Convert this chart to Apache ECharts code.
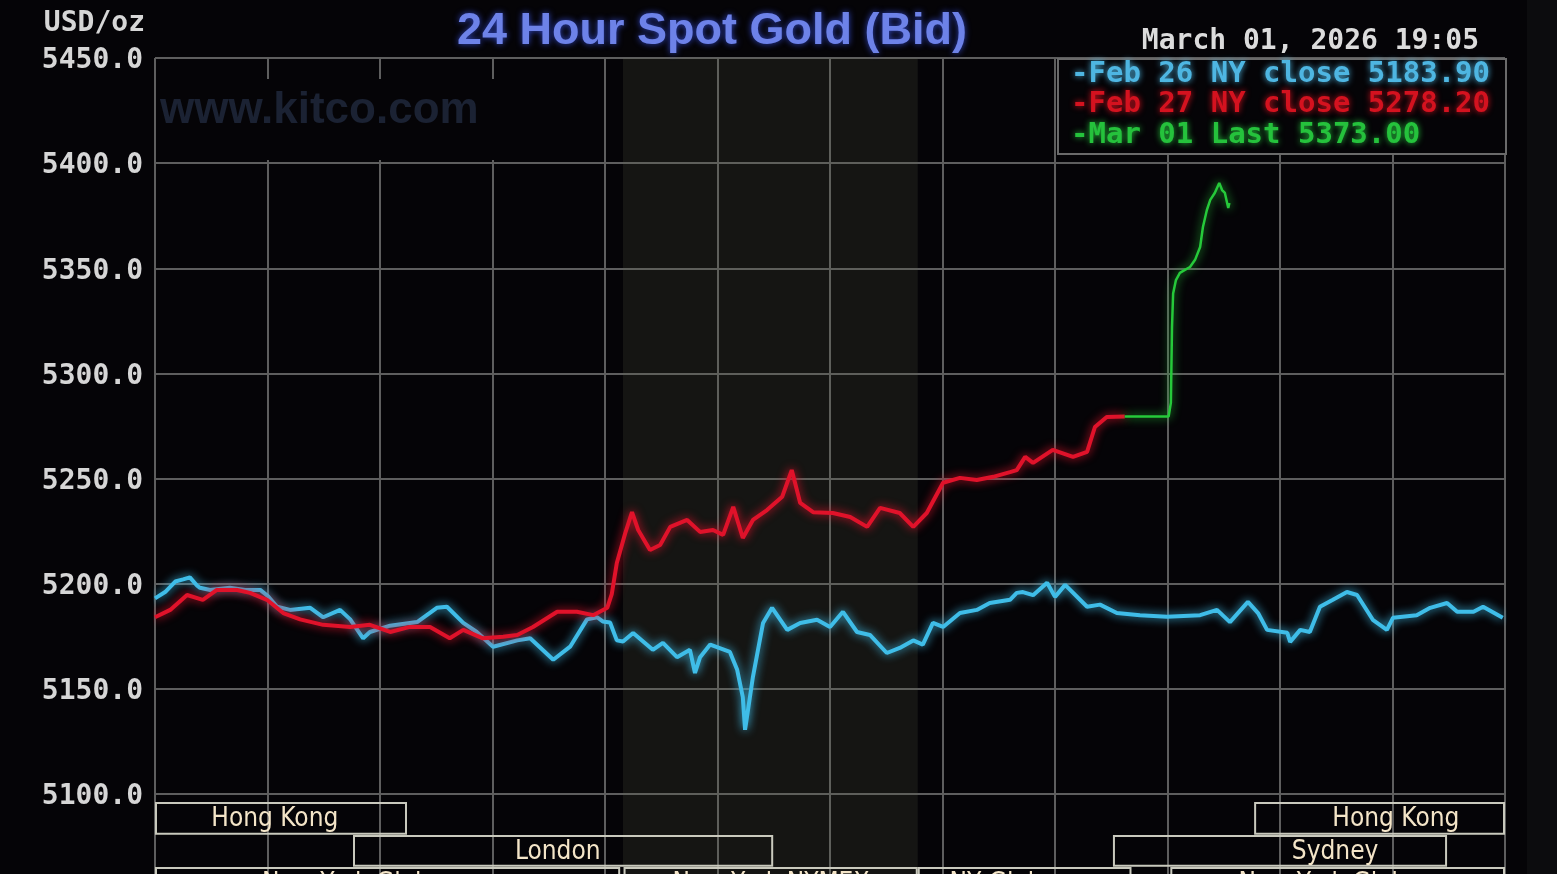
<!DOCTYPE html>
<html><head><meta charset="utf-8">
<script src="https://cdn.jsdelivr.net/npm/echarts@6/dist/echarts.min.js"></script>
<style>html,body{margin:0;padding:0;background:#050407;overflow:hidden}#c{width:1557px;height:874px}</style>
</head><body><div id="c"></div>
<script>
// ---- data (hours of the NY trading day, price in USD/oz) ----
const feb26Hours = [0.00,0.18,0.36,0.50,0.62,0.75,0.80,0.98,1.33,1.60,1.87,2.01,2.17,2.40,2.76,2.99,3.29,3.47,3.70,3.82,4.18,4.66,5.01,5.19,5.48,5.72,6.01,6.44,6.67,7.08,7.38,7.68,7.86,7.96,8.09,8.21,8.32,8.50,8.85,9.03,9.28,9.51,9.60,9.69,9.87,10.22,10.35,10.45,10.49,10.63,10.81,10.97,11.24,11.47,11.77,12.00,12.23,12.48,12.71,13.01,13.24,13.48,13.65,13.83,14.01,14.31,14.61,14.84,15.20,15.32,15.43,15.61,15.86,16.00,16.18,16.57,16.80,17.10,17.51,17.99,18.58,18.88,19.11,19.43,19.61,19.77,20.13,20.18,20.36,20.53,20.71,20.94,21.19,21.37,21.65,21.90,22.01,22.43,22.67,22.97,23.15,23.44,23.61,23.96];
const feb26Values = [5193,5196,5201,5202,5203,5199,5198,5197,5198,5197,5197,5194,5189,5187.5,5188.5,5184,5187.5,5183,5174,5177,5180,5181.7,5188.5,5189,5181.3,5177,5170,5173,5174,5163.8,5170,5183,5184,5182,5181.5,5173,5172.5,5176.5,5168.5,5171.8,5165,5168.5,5157.5,5165,5171,5167.5,5159,5146,5130.5,5155.7,5181.3,5188.5,5178,5181.3,5182.8,5179.4,5186.6,5177,5175.6,5167,5169.4,5173,5171,5181.3,5179.4,5186,5187.5,5190.8,5192.3,5195.6,5196,5194.5,5200.4,5193.7,5199.4,5189,5190,5186,5185,5184.2,5185,5187.5,5181.7,5191.3,5186,5178,5176.6,5172.3,5178,5177,5189,5192.3,5196,5194.6,5182.8,5178,5183.8,5185,5188.5,5190.8,5186.6,5186.6,5189,5183.8];

const feb27Hours = [0.00,0.27,0.57,0.85,1.10,1.46,1.69,1.99,2.28,2.58,2.99,3.47,3.82,4.18,4.53,4.89,5.24,5.48,5.83,6.19,6.44,6.72,7.15,7.50,7.79,8.04,8.12,8.21,8.36,8.48,8.59,8.80,8.98,9.16,9.46,9.69,9.92,10.10,10.28,10.45,10.63,10.88,11.15,11.32,11.47,11.70,12.05,12.36,12.66,12.89,13.24,13.48,13.72,14.01,14.31,14.61,14.90,15.20,15.32,15.47,15.61,15.96,16.32,16.57,16.71,16.92,17.24];
const feb27Values = [5184,5187.5,5194.6,5192.3,5197,5197,5195.6,5192.3,5186,5183,5180.4,5179.4,5180.4,5177,5179.4,5179.4,5174,5178,5174,5174.7,5175.6,5179.4,5186.6,5186.6,5185,5188.5,5195,5209.8,5224,5234,5225.5,5216,5218.4,5227,5230.3,5224.6,5225.5,5223.2,5236.5,5221.7,5230.3,5235,5241.3,5254,5238.4,5234,5233.6,5231.7,5227,5236,5233.6,5227,5233.6,5248,5250.3,5249.3,5250.8,5253,5254,5260.3,5257.4,5263.6,5260.3,5262.7,5274.5,5279.3,5279.5];

const mar01Hours = [17.24,18.02,18.06,18.08,18.10,18.15,18.22,18.31,18.40,18.49,18.58,18.63,18.70,18.76,18.84,18.92,18.97,19.02,19.08,19.10];
const mar01Values = [5279.5,5279.5,5286,5322,5338,5344.4,5347.8,5349.2,5350.6,5354,5360.1,5369.6,5377.7,5382.5,5385.8,5390.6,5387.2,5385.8,5378.7,5381];

const legendNames = ['Feb 26 NY close', 'Feb 27 NY close', 'Mar 01 Last'];
const legendValues = [5183.90, 5278.20, 5373.00];

const nymexStart = 8.32, nymexEnd = 13.56;

const sessionNames = ['Hong Kong','London','New York Globex','New York NYMEX','NY Globex','New York Globex','Sydney','Hong Kong'];
const sessionStart = [0, 3.52, 0, 8.33, 13.56, 18.05, 17.03, 19.54];
const sessionEnd   = [4.48, 10.99, 8.27, 13.56, 17.36, 24, 22.97, 24];
const sessionRow   = [0, 1, 2, 2, 2, 2, 1, 0];
const sessionLabelAt = [2.13, 7.16, 3.64, 10.95, 15.2, 21.0, 20.98, 22.06];

const yTicks = { min: 5050, max: 5450, step: 50 };

// ---- build ----
const zip = (a, b) => a.map((v, i) => [v, b[i]]);
const colors = ['#3fbde8', '#e0122a', '#26c93a'];
const legendColors = ['#4eb6e2', '#d4121f', '#25c23c'];
const ROW_TOP = [5095.7, 5080.0, 5064.8];
const ROW_BOT = [5081.0, 5065.8, 5050.1];

const chart = echarts.init(document.getElementById('c'), null, { renderer: 'canvas' });
const mono = '"DejaVu Sans Mono", monospace';

const lineSeries = (name, data, color, width, z) => ({
  name, type: 'line', data, showSymbol: false, symbol: 'none', z,
  lineStyle: { color, width, shadowColor: color, shadowBlur: 10 },
  animation: false, silent: true
});

const legendTexts = legendNames.map((n, i) => ({
  type: 'text', x: 1071, y: 74 + i * 30.5, z: 20,
  style: { text: '-' + n + ' ' + legendValues[i].toFixed(2), fill: legendColors[i], verticalAlign: 'middle',
    font: 'bold 29px ' + mono, textShadowColor: legendColors[i], textShadowBlur: 6 }
}));

chart.setOption({
  backgroundColor: '#050407',
  animation: false,
  grid: { left: 155, right: 52, top: 58, height: 841, outerBoundsMode: 'none', containLabel: false },
  xAxis: {
    type: 'value', min: 0, max: 24, interval: 2,
    axisLine: { show: false }, axisTick: { show: false }, axisLabel: { show: false },
    splitLine: { show: true, lineStyle: { color: '#5e5e5e', width: 2 } }
  },
  yAxis: {
    type: 'value', min: yTicks.min, max: yTicks.max, interval: yTicks.step,
    axisLine: { show: false }, axisTick: { show: false },
    axisLabel: { margin: 12, formatter: v => '{t|' + v.toFixed(1) + '}',
      rich: { t: { color: '#d6d6d6', fontFamily: mono, fontWeight: 'bold', fontSize: 28, padding: [6, 0, 0, 0] } } },
    splitLine: { show: true, lineStyle: { color: '#5e5e5e', width: 2 } }
  },
  graphic: { elements: [
    { type: 'rect', left: 1527, top: 0, shape: { width: 30, height: 874 }, style: { fill: '#0c0c0e' }, z: 1 },
    { type: 'rect', left: 157, top: 79, shape: { width: 338, height: 81 }, style: { fill: '#050407' }, z: 1 },
    { type: 'text', left: 160, top: 89, z: 2,
      style: { text: 'www.kitco.com', fill: '#1b2233', font: 'bold 44px "Liberation Sans", Arial, sans-serif' } },
    { type: 'text', x: 712, y: 32, z: 20,
      style: { text: '24 Hour Spot Gold (Bid)', fill: '#6d82e8', align: 'center', verticalAlign: 'middle',
        font: 'bold 45px "Liberation Sans", Arial, sans-serif', textShadowColor: '#3045c0', textShadowBlur: 6 } },
    { type: 'text', x: 145, y: 24, z: 20,
      style: { text: 'USD/oz', fill: '#d6d6d6', align: 'right', verticalAlign: 'middle', font: 'bold 28px ' + mono } },
    { type: 'text', x: 1479, y: 42, z: 20,
      style: { text: 'March 01, 2026 19:05', fill: '#dcdcdc', align: 'right', verticalAlign: 'middle', font: 'bold 28px ' + mono } },
    { type: 'rect', left: 1057, top: 58, z: 19,
      shape: { width: 448, height: 95 }, style: { fill: '#050407', stroke: '#6a6a6a', lineWidth: 2 } },
    ...legendTexts
  ]},
  series: [
    Object.assign(lineSeries('Feb 26 NY close', zip(feb26Hours, feb26Values), colors[0], 4, 3), {
      markArea: { silent: true, itemStyle: { color: 'rgba(95,100,80,0.18)' },
        data: [[{ xAxis: nymexStart }, { xAxis: nymexEnd }]] }
    }),
    lineSeries('Feb 27 NY close', zip(feb27Hours, feb27Values), colors[1], 4, 4),
    lineSeries('Mar 01 Last', zip(mar01Hours, mar01Values), colors[2], 2.5, 5),
    {
      type: 'custom', name: 'sessions', silent: true, z: 6, clip: false,
      data: sessionNames.map((n, i) => [sessionStart[i], sessionEnd[i], sessionRow[i], sessionLabelAt[i]]),
      renderItem: (params, api) => {
        const s = api.value(0), e = api.value(1), r = api.value(2), lab = api.value(3);
        const p1 = api.coord([s, ROW_TOP[r]]);
        const p2 = api.coord([e, ROW_BOT[r]]);
        const lp = api.coord([lab, (ROW_TOP[r] + ROW_BOT[r]) / 2]);
        return { type: 'group', children: [
          { type: 'rect', shape: { x: p1[0] + 1, y: p1[1], width: p2[0] - p1[0] - 2, height: p2[1] - p1[1] },
            style: { fill: 'none', stroke: '#c9c9bd', lineWidth: 2 } },
          { type: 'text', x: lp[0], y: lp[1] + 1,
            style: { text: sessionNames[params.dataIndex], fill: '#f4e5c8', align: 'center', verticalAlign: 'middle',
              font: '26px "DejaVu Sans Condensed", "DejaVu Sans", sans-serif' } }
        ]};
      }
    }
  ]
});
</script></body></html>
